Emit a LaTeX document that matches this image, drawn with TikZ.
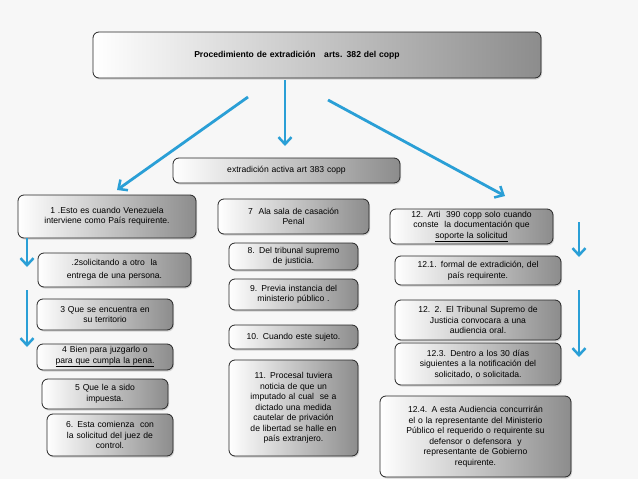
\documentclass[tikz,border=0pt]{standalone}
\usepackage{fontspec}
\setmainfont{Liberation Sans}
\usetikzlibrary{arrows.meta,shadows}
\definecolor{arr}{HTML}{2A9FD6}
\begin{document}
\begin{tikzpicture}[x=1pt,y=-1pt,
 bx/.style={draw=black!85,line width=0.8pt,rounded corners=6pt,left color=white,right color=black!45,
   drop shadow={opacity=0.3,shadow xshift=1pt,shadow yshift=-1.5pt},
   font=\fontsize{8.6}{10.5}\selectfont,align=center,inner sep=1pt},
 ar/.style={draw=arr,line width=2.8pt,-{Straight Barb[length=7pt,width=13pt,line width=2.5pt]}}]
\fill[black!3] (0,0) rectangle (638,479);
\useasboundingbox (0,0) rectangle (638,479);
\newcommand\B[6]{\node[bx,minimum width=#3-#1,minimum height=#4-#2,text width=#3-#1-6] (#5) at ({(#1+#3)/2},{(#2+#4)/2}) {#6};}
\B{93}{32}{541}{78}{top}{\hspace*{-40pt}\textbf{Procedimiento de extradición \ \ arts. 382 del copp}}
\B{173}{158}{400}{183}{mid}{extradición activa art 383 copp}
\B{18}{195}{196}{238}{b1}{1 .Esto es cuando Venezuela\\interviene como País requirente.}
\B{38}{253}{191}{287}{b2}{.2solicitando a otro \ la\\[2pt]entrega de una persona.}
\B{37}{299}{173}{330}{b3}{3 Que se encuentra en\\su territorio}
\B{37}{344}{173}{370}{b4}{4 Bien para juzgarlo o\\\underline{para que cumpla la pena.}}
\B{42}{379}{168}{409}{b5}{5 Que le a sido\\impuesta.}
\B{47}{414}{173}{456}{b6}{6. Esta comienza \ con\\la solicitud del juez de\\control.}
\B{218}{199}{369}{234}{b7}{7 \ Ala sala de casación\\Penal}
\B{229}{243}{358}{270}{b8}{8. Del tribunal supremo\\de justicia.}
\B{229}{279}{358}{310}{b9}{9. Previa instancia del\\ministerio público .}
\B{229}{325}{358}{349}{b10}{10. Cuando este sujeto.}
\B{229}{360}{358}{456}{b11}{11. Procesal tuviera\\noticia de que un\\imputado al cual \ se a\\dictado una medida\\cautelar de privación\\de libertad se halle en\\país extranjero.}
\B{390}{209}{553}{244}{b12}{12. Arti \ 390 copp solo cuando\\conste \ la documentación que\\\underline{soporte la solicitud}}
\B{395}{256}{561}{285}{b121}{12.1. formal de extradición, del\\país requirente.}
\B{395}{300}{561}{340}{b122}{12. 2. El Tribunal Supremo de\\Justicia convocara a una\\audiencia oral.}
\B{395}{343}{561}{385}{b123}{12.3. Dentro a los 30 días\\siguientes a la notificación del\\solicitado, o solicitada.}
\B{380}{396}{571}{477}{b124}{12.4. A esta Audiencia concurrirán\\el o la representante del Ministerio\\Público el requerido o requirente su\\defensor o defensora \ y\\representante de Gobierno\\requirente.}
\coordinate (c0) at (285,80);
\coordinate (cl) at (248,97);
\coordinate (cr) at (328,100);
\coordinate (l1) at (27,238); \coordinate (l2) at (27,267);
\coordinate (l3) at (27,290); \coordinate (l4) at (27,347);
\coordinate (r1) at (579,222); \coordinate (r2) at (579,257);
\coordinate (r3) at (579,290); \coordinate (r4) at (579,357);
\draw[ar] (c0) -- (285,146);
\draw[ar] (cl) -- (117,190);
\draw[ar] (cr) -- (505,196);
\draw[ar] (l1) -- (l2);
\draw[ar] (l3) -- (l4);
\draw[ar] (r1) -- (r2);
\draw[ar] (r3) -- (r4);
\end{tikzpicture}
\end{document}
